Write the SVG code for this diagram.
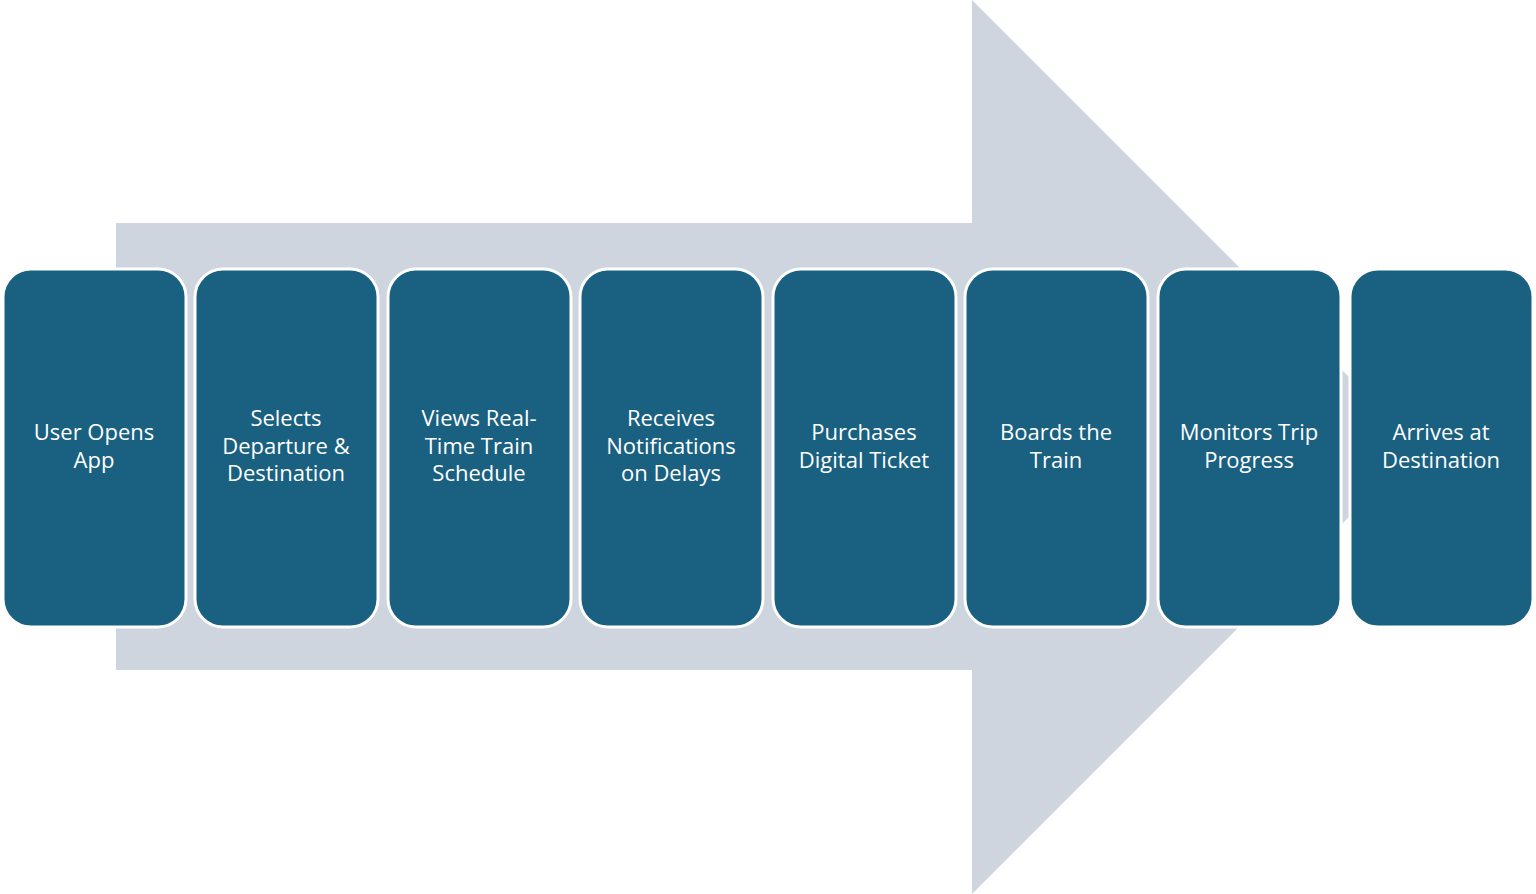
<svg xmlns="http://www.w3.org/2000/svg" width="1536" height="894" viewBox="0 0 1536 894">
<style>
.b{fill:#1a6080;stroke:#ffffff;stroke-width:3}
.t{font-family:"Open Sans","Liberation Sans",sans-serif;font-size:22px;fill:#ffffff;text-anchor:middle}
</style>
<rect width="1536" height="894" fill="#ffffff"/>
<g id="connectors">
<polygon points="116,223 972,223 972,0 1419,447 972,894 972,670 116,670" fill="#cfd5de"/>
</g>
<g id="n1"><rect class="b" x="3" y="269" width="183" height="358" rx="28"/><text class="t" x="94" y="440">User Opens</text><text class="t" x="94" y="468">App</text></g>
<g id="n2"><rect class="b" x="195" y="269" width="183" height="358" rx="28"/><text class="t" x="286" y="426">Selects</text><text class="t" x="286" y="454">Departure &amp;</text><text class="t" x="286" y="481">Destination</text></g>
<g id="n3"><rect class="b" x="388" y="269" width="183" height="358" rx="28"/><text class="t" x="479" y="426">Views Real-</text><text class="t" x="479" y="454">Time Train</text><text class="t" x="479" y="481">Schedule</text></g>
<g id="n4"><rect class="b" x="580" y="269" width="183" height="358" rx="28"/><text class="t" x="671" y="426">Receives</text><text class="t" x="671" y="454">Notifications</text><text class="t" x="671" y="481">on Delays</text></g>
<g id="n5"><rect class="b" x="773" y="269" width="183" height="358" rx="28"/><text class="t" x="864" y="440">Purchases</text><text class="t" x="864" y="468">Digital Ticket</text></g>
<g id="n6"><rect class="b" x="965" y="269" width="183" height="358" rx="28"/><text class="t" x="1056" y="440">Boards the</text><text class="t" x="1056" y="468">Train</text></g>
<g id="n7"><rect class="b" x="1158" y="269" width="183" height="358" rx="28"/><text class="t" x="1249" y="440">Monitors Trip</text><text class="t" x="1249" y="468">Progress</text></g>
<g id="n8"><rect class="b" x="1350" y="269" width="183" height="358" rx="28"/><text class="t" x="1441" y="440">Arrives at</text><text class="t" x="1441" y="468">Destination</text></g>
</svg>
